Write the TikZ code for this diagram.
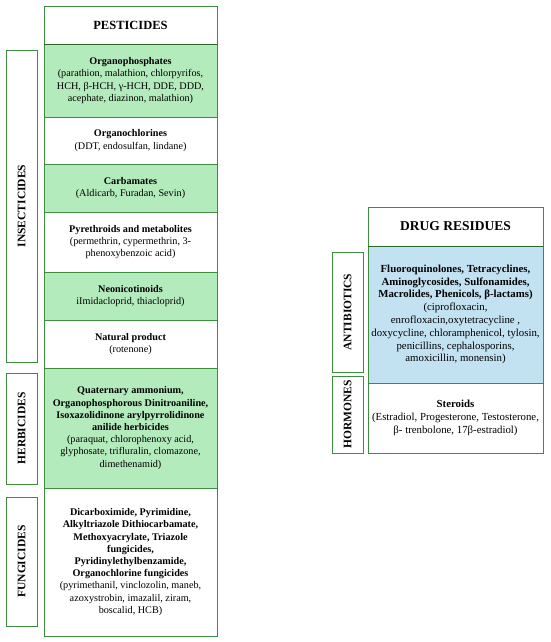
\documentclass[tikz,border=0pt]{standalone}
\usepackage{fontspec}
\setmainfont{Liberation Serif}
\definecolor{bord}{RGB}{62,140,62}
\definecolor{sepc}{RGB}{40,105,40}
\definecolor{gfill}{RGB}{180,235,188}
\definecolor{bfill}{RGB}{194,226,242}
\tikzset{
  cell/.style={draw=bord, line width=0.9pt, rectangle, inner sep=0pt, align=center, fill=white,
    font=\fontsize{10.2}{12.2}\selectfont},
  rcell/.style={cell, font=\fontsize{10.8}{12.8}\selectfont},
  gcell/.style={cell, fill=gfill},
  bcell/.style={rcell, fill=bfill},
  hdrbox/.style={cell, font=\fontsize{12.5}{14}\selectfont\bfseries},
  side/.style={cell, rotate=90, font=\fontsize{11.5}{13}\selectfont\bfseries},
  sepline/.style={draw=sepc, line width=1.8pt},
}
\begin{document}
\begin{tikzpicture}[x=1pt,y=-1pt]
\useasboundingbox (0,0) rectangle (550,642);
% pesticides column
\node[hdrbox, minimum width=173pt, minimum height=38pt] (hdr) at (130.5,25) {PESTICIDES};
\node[gcell, minimum width=173pt, minimum height=73pt] (op) at (130.5,80.5)
  {\textbf{Organophosphates}\\(parathion, malathion, chlorpyrifos,\\HCH, β-HCH, γ-HCH, DDE, DDD,\\acephate, diazinon, malathion)};
\node[cell, minimum width=173pt, minimum height=47pt] (oc) at (130.5,140.5)
  {\textbf{Organochlorines}\\(DDT, endosulfan, lindane)};
\node[gcell, minimum width=173pt, minimum height=48pt] (carb) at (130.5,188)
  {\textbf{Carbamates}\\(Aldicarb, Furadan, Sevin)};
\node[cell, minimum width=173pt, minimum height=60pt] (pyr) at (130.5,242)
  {\textbf{Pyrethroids and metabolites}\\(permethrin, cypermethrin, 3-\\phenoxybenzoic acid)};
\node[gcell, minimum width=173pt, minimum height=48pt] (neo) at (130.5,296)
  {\textbf{Neonicotinoids}\\iImidacloprid, thiacloprid)};
\node[cell, minimum width=173pt, minimum height=48pt] (nat) at (130.5,344)
  {\textbf{Natural product}\\(rotenone)};
\node[gcell, minimum width=173pt, minimum height=120pt] (herb) at (130.5,428)
  {\textbf{Quaternary ammonium,}\\\textbf{Organophosphorous Dinitroaniline,}\\\textbf{Isoxazolidinone arylpyrrolidinone}\\\textbf{anilide herbicides}\\(paraquat, chlorophenoxy acid,\\glyphosate, trifluralin, clomazone,\\dimethenamid)};
\node[cell, minimum width=173pt, minimum height=148pt] (fung) at (130.5,562)
  {\textbf{Dicarboximide, Pyrimidine,}\\\textbf{Alkyltriazole Dithiocarbamate,}\\\textbf{Methoxyacrylate, Triazole}\\\textbf{fungicides,}\\\textbf{Pyridinylethylbenzamide,}\\\textbf{Organochlorine fungicides}\\(pyrimethanil, vinclozolin, maneb,\\azoxystrobin, imazalil, ziram,\\boscalid, HCB)};
\draw[sepline] (hdr.south west) -- (hdr.south east);
% pesticide side labels
\node[side, minimum width=312pt, minimum height=31pt] (ins) at (21.5,206) {INSECTICIDES};
\node[side, minimum width=111pt, minimum height=31pt] (herbl) at (21.5,428.5) {HERBICIDES};
\node[side, minimum width=129pt, minimum height=31pt] (fungl) at (21.5,561.5) {FUNGICIDES};
% drug residues column
\node[hdrbox, font=\fontsize{13.5}{15}\selectfont\bfseries, minimum width=175pt, minimum height=39pt] (dhdr) at (455.5,226.5) {DRUG RESIDUES};
\node[bcell, minimum width=175pt, minimum height=137pt] (anti) at (455.5,314.5)
  {\textbf{Fluoroquinolones, Tetracyclines,}\\\textbf{Aminoglycosides, Sulfonamides,}\\\textbf{Macrolides, Phenicols, β-lactams)}\\(ciprofloxacin,\\enrofloxacin,oxytetracycline ,\\doxycycline, chloramphenicol, tylosin,\\penicillins, cephalosporins,\\amoxicillin, monensin)};
\node[rcell, minimum width=175pt, minimum height=70pt] (horm) at (455.5,418)
  {\textbf{Steroids}\\(Estradiol, Progesterone, Testosterone,\\β- trenbolone, 17β-estradiol)};
\draw[sepline] (dhdr.south west) -- (dhdr.south east);
\node[side, minimum width=120pt, minimum height=31pt] (antil) at (347.5,312) {ANTIBIOTICS};
\node[side, minimum width=77pt, minimum height=31pt] (horml) at (347.5,414.5) {HORMONES};
\end{tikzpicture}
\end{document}
